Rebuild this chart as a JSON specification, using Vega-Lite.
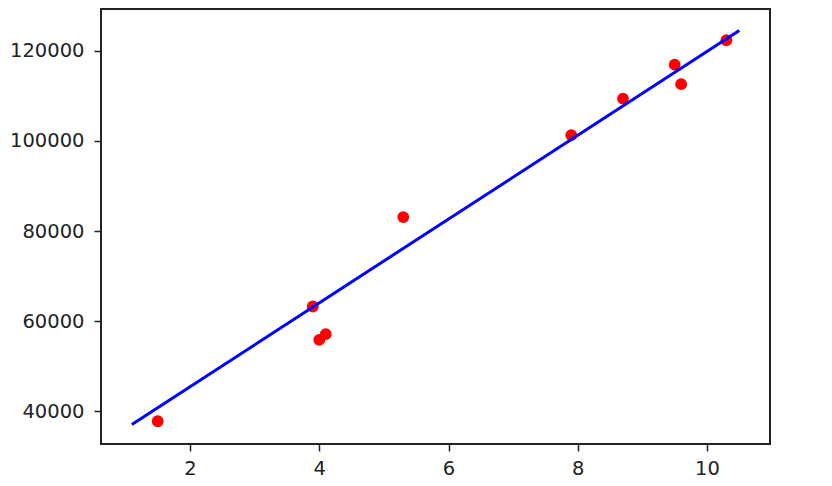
{
  "$schema": "https://vega.github.io/schema/vega-lite/v6.json",
  "width": 669,
  "height": 435,
  "autosize": {"type": "none"},
  "padding": {"left": 101, "top": 9, "right": 62, "bottom": 42},
  "background": "white",
  "config": {
    "view": {"stroke": "#222222", "strokeWidth": 2},
    "axis": {
      "grid": false,
      "domain": false,
      "tickColor": "#222222",
      "tickSize": 7,
      "tickWidth": 1.5,
      "labelFont": "DejaVu Sans",
      "labelFontSize": 19.5,
      "labelColor": "#222222",
      "title": null
    }
  },
  "datasets": {
    "test": [
      {"exp": 1.5, "salary": 37731},
      {"exp": 3.9, "salary": 63218},
      {"exp": 4.0, "salary": 55794},
      {"exp": 4.1, "salary": 57081},
      {"exp": 5.3, "salary": 83088},
      {"exp": 7.9, "salary": 101302},
      {"exp": 8.7, "salary": 109431},
      {"exp": 9.5, "salary": 116969},
      {"exp": 9.6, "salary": 112635},
      {"exp": 10.3, "salary": 122391}
    ],
    "fit": [
      {"exp": 1.1, "salary": 37023},
      {"exp": 10.5, "salary": 124556}
    ]
  },
  "layer": [
    {
      "data": {"name": "test"},
      "mark": {"type": "circle", "color": "#ff0000", "opacity": 1, "size": 140},
      "encoding": {
        "x": {"field": "exp", "type": "quantitative", "scale": {"domain": [0.622, 10.975], "nice": false, "zero": false},
              "axis": {"values": [2, 4, 6, 8, 10], "labelPadding": 8, "format": "d"}},
        "y": {"field": "salary", "type": "quantitative", "scale": {"domain": [32667, 129333], "nice": false, "zero": false},
              "axis": {"values": [40000, 60000, 80000, 100000, 120000], "labelPadding": 10, "format": "d"}}
      }
    },
    {
      "data": {"name": "fit"},
      "mark": {"type": "line", "color": "#0000ff", "strokeWidth": 3},
      "encoding": {
        "x": {"field": "exp", "type": "quantitative"},
        "y": {"field": "salary", "type": "quantitative"}
      }
    }
  ]
}
